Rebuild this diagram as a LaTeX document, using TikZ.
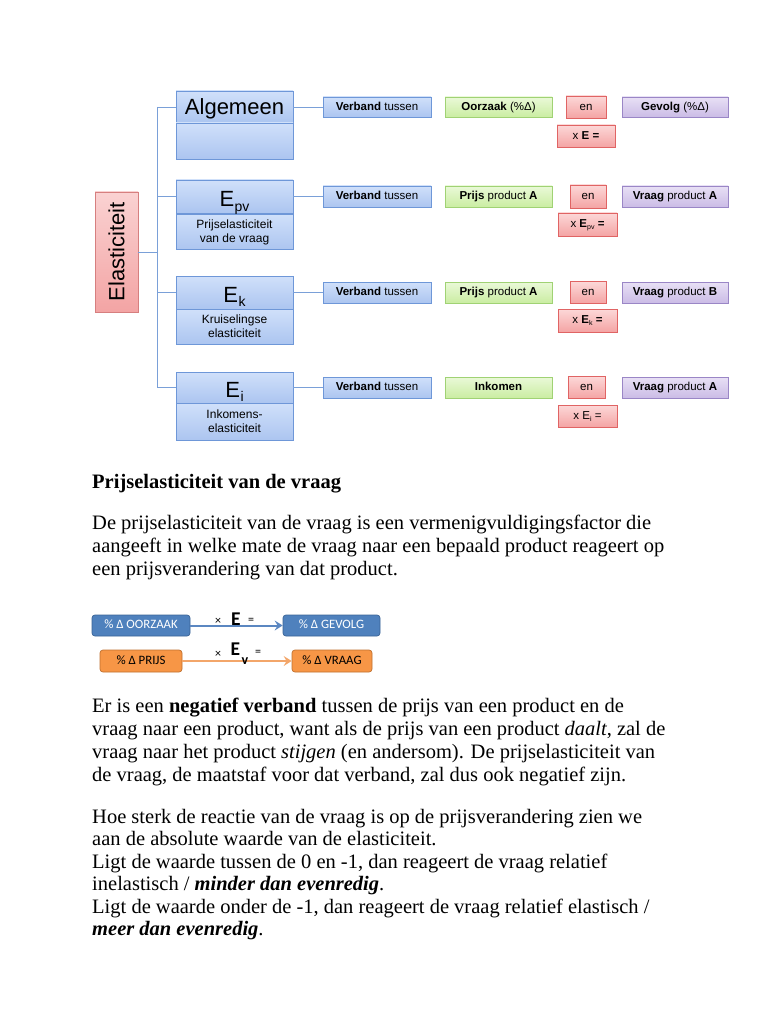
\documentclass[tikz,border=0pt]{standalone}
\usepackage{fontspec}
\setmainfont{Liberation Serif}
\newfontfamily\arial{Liberation Sans}
\newfontfamily\calib{Carlito}
\usetikzlibrary{shadows,arrows.meta}
\definecolor{blueT}{HTML}{D0E0FA}
\definecolor{blueD}{HTML}{ACC5F0}
\definecolor{blueB}{HTML}{6E97D8}
\definecolor{greenT}{HTML}{EAF9D8}
\definecolor{greenD}{HTML}{CAEDA2}
\definecolor{greenB}{HTML}{A0D274}
\definecolor{redT}{HTML}{FCD8D8}
\definecolor{redD}{HTML}{F4A4A4}
\definecolor{redB}{HTML}{E06464}
\definecolor{purT}{HTML}{E8E0F5}
\definecolor{purD}{HTML}{CBBCE6}
\definecolor{purB}{HTML}{9A86C6}
\definecolor{elT}{HTML}{FAD2D2}
\definecolor{elD}{HTML}{F3A4A4}
\definecolor{elB}{HTML}{D67F7F}
\definecolor{lineB}{HTML}{7AA0D8}
\definecolor{boxBlue}{HTML}{4F81BD}
\definecolor{boxBlueB}{HTML}{3A6496}
\definecolor{boxOr}{HTML}{F79646}
\definecolor{boxOrB}{HTML}{C0702E}
\definecolor{arrBlue}{HTML}{5B87C1}
\definecolor{arrOr}{HTML}{F3A66A}
\begin{document}
\begin{tikzpicture}[x=1pt,y=-1pt,
  box/.style={draw, line width=0.8pt, inner sep=0pt, align=center,
    font=\arial\fontsize{11.5}{13}\selectfont,
    drop shadow={opacity=0.25,shadow xshift=0.8pt,shadow yshift=-0.8pt}},
  one/.style={text height=8.6pt, text depth=2.4pt},
  bluebox/.style={box, draw=blueB, top color=blueT, bottom color=blueD},
  greenbox/.style={box, one, draw=greenB, top color=greenT, bottom color=greenD},
  redbox/.style={box, one, draw=redB, top color=redT, bottom color=redD},
  purbox/.style={box, one, draw=purB, top color=purT, bottom color=purD},
  bigf/.style={font=\arial\fontsize{22}{24}\selectfont},
  subf/.style={font=\arial\fontsize{12}{14}\selectfont},
  conn/.style={draw=lineB, line width=0.9pt},
  txt/.style={anchor=base west, inner sep=0pt, font=\fontsize{20.5}{23}\selectfont},
  lbox/.style={draw, line width=0.7pt, rounded corners=3pt, inner sep=0pt,
    text height=9pt, text depth=2.5pt,
    font=\calib\fontsize{12.8}{15}\selectfont}
]
\useasboundingbox[fill=white] (0,0) rectangle (768,1024);

% ---------- top diagram ----------
\node[box, draw=elB, top color=elT, bottom color=elD, minimum width=43, minimum height=120, bigf] (elas) at (116.5,252) {\rotatebox{90}{Elasticiteit}};

\node[bluebox, minimum width=117, minimum height=32, bigf, text height=16pt, text depth=0pt] (alg) at (234.5,107) {Algemeen};
\node[bluebox, minimum width=117, minimum height=36] (algS) at (234.5,141) {};

\node[bluebox, minimum width=117, minimum height=33, bigf, text height=21pt, text depth=0pt] (epv) at (234.5,196.5) {E\kern0.5pt\raisebox{-4.5pt}{\fontsize{14}{14}\selectfont pv}};
\node[bluebox, minimum width=117, minimum height=35, subf, yshift=-1.5pt] (epvS) at (234.5,230.5) {Prijselasticiteit\\van de vraag};

\node[bluebox, minimum width=117, minimum height=33, bigf, text height=19pt, text depth=0pt] (ek) at (234.5,292.5) {E\kern0.5pt\raisebox{-4.5pt}{\fontsize{14}{14}\selectfont k}};
\node[bluebox, minimum width=117, minimum height=35, subf] (ekS) at (234.5,326.5) {Kruiselingse\\elasticiteit};

\node[bluebox, minimum width=117, minimum height=31, bigf, text height=19pt, text depth=0pt] (ei) at (234.5,387.5) {E\kern0.5pt\raisebox{-4.5pt}{\fontsize{14}{14}\selectfont i}};
\node[bluebox, minimum width=117, minimum height=37, subf] (eiS) at (234.5,421.5) {Inkomens-\\elasticiteit};

\coordinate (bE) at (157,252);
\coordinate (b1) at (157,107);
\coordinate (b2) at (157,196.5);
\coordinate (b3) at (157,292.5);
\coordinate (b4) at (157,387.5);
\draw[conn] (b1) -- (b4);
\draw[conn] (elas.east) -- (bE);
\draw[conn] (b1) -- (alg.west);
\draw[conn] (b2) -- (epv.west);
\draw[conn] (b3) -- (ek.west);
\draw[conn] (b4) -- (ei.west);

% row 1
\node[bluebox, one, minimum width=108, minimum height=20] (v1) at (377,107) {\textbf{Verband} tussen};
\node[greenbox, minimum width=107, minimum height=20] (o1) at (498.5,107) {\textbf{Oorzaak} (\%Δ)};
\node[redbox, minimum width=40, minimum height=22] (en1) at (586,107) {en};
\node[purbox, minimum width=106, minimum height=20] (g1) at (675,107) {\textbf{Gevolg} (\%Δ)};
\node[redbox, minimum width=58, minimum height=22] (x1) at (586,136) {x \textbf{E =}};
\draw[conn] (alg.east) -- (v1.west);

% row 2
\node[bluebox, one, minimum width=108, minimum height=21] (v2) at (377,196.5) {\textbf{Verband} tussen};
\node[greenbox, minimum width=107, minimum height=21] (o2) at (498.5,196.5) {\textbf{Prijs} product \textbf{A}};
\node[redbox, minimum width=36, minimum height=23] (en2) at (588,196.5) {en};
\node[purbox, minimum width=106, minimum height=21] (g2) at (675,196.5) {\textbf{Vraag} product \textbf{A}};
\node[redbox, minimum width=59, minimum height=23] (x2) at (587.5,224.5) {x \textbf{E}\raisebox{-2pt}{\fontsize{7}{7}\selectfont pv} \textbf{=}};
\draw[conn] (epv.east) -- (v2.west);

% row 3
\node[bluebox, one, minimum width=108, minimum height=21] (v3) at (377,292.5) {\textbf{Verband} tussen};
\node[greenbox, minimum width=107, minimum height=21] (o3) at (498.5,292.5) {\textbf{Prijs} product \textbf{A}};
\node[redbox, minimum width=36, minimum height=22] (en3) at (588,292.5) {en};
\node[purbox, minimum width=106, minimum height=21] (g3) at (675,292.5) {\textbf{Vraag} product \textbf{B}};
\node[redbox, minimum width=59, minimum height=23] (x3) at (587.5,320.5) {x \textbf{E}\raisebox{-2pt}{\fontsize{7}{7}\selectfont k} \textbf{=}};
\draw[conn] (ek.east) -- (v3.west);

% row 4
\node[bluebox, one, minimum width=108, minimum height=21] (v4) at (377,387.5) {\textbf{Verband} tussen};
\node[greenbox, minimum width=107, minimum height=21] (o4) at (498.5,387.5) {\textbf{Inkomen}};
\node[redbox, minimum width=37, minimum height=22] (en4) at (586.5,387.5) {en};
\node[purbox, minimum width=106, minimum height=21] (g4) at (675,387.5) {\textbf{Vraag} product \textbf{A}};
\node[redbox, minimum width=59, minimum height=22] (x4) at (587.5,416) {x E\raisebox{-2pt}{\fontsize{7}{7}\selectfont i} =};
\draw[conn] (ei.east) -- (v4.west);

% ---------- text ----------
\node[txt, font=\bfseries\fontsize{20.5}{23}\selectfont] (h1) at (92,488) {Prijselasticiteit van de vraag};
\node[txt] (t1) at (92,529) {De prijselasticiteit van de vraag is een vermenigvuldigingsfactor die};
\node[txt] (t2) at (92,552) {aangeeft in welke mate de vraag naar een bepaald product reageert op};
\node[txt] (t3) at (92,575) {een prijsverandering van dat product.};

% ---------- small arrow diagram ----------
\node[lbox, fill=boxBlue, draw=boxBlueB, text=white, minimum width=98, minimum height=21] (oz) at (141,625.5) {\% Δ OORZAAK};
\node[lbox, fill=boxBlue, draw=boxBlueB, text=white, minimum width=97, minimum height=21] (gv) at (331.5,625.5) {\% Δ GEVOLG};
\node[lbox, fill=boxOr, draw=boxOrB, text=black, minimum width=82, minimum height=22] (pr) at (141,661) {\% Δ PRIJS};
\node[lbox, fill=boxOr, draw=boxOrB, text=black, minimum width=80, minimum height=22] (vr) at (332,661) {\% Δ VRAAG};
\draw[draw=arrBlue, line width=2pt, -{Stealth[length=8pt,width=10pt,inset=3pt]}] (oz.east) -- (gv.west);
\draw[draw=arrOr, line width=1.8pt, -{Stealth[length=8pt,width=10pt,inset=3pt]}] (pr.east) -- (vr.west);
\node[inner sep=0pt, font=\calib\fontsize{12}{12}\selectfont] (mx1) at (218,621) {×};
\node[inner sep=0pt, font=\calib\bfseries\fontsize{19.5}{20}\selectfont] (mE1) at (236,619) {E};
\node[inner sep=0pt, font=\calib\fontsize{12}{12}\selectfont] (meq1) at (251,621) {=};
\node[inner sep=0pt, font=\calib\fontsize{12}{12}\selectfont] (mx2) at (218,654) {×};
\node[inner sep=0pt, font=\calib\bfseries\fontsize{19.5}{20}\selectfont] (mE2) at (235.5,649.5) {E};
\node[inner sep=0pt, font=\calib\bfseries\fontsize{14}{14}\selectfont] (mv2) at (245,661.5) {v};
\node[inner sep=0pt, font=\calib\fontsize{12}{12}\selectfont] (meq2) at (258,653) {=};

% ---------- text ----------
\node[txt] (t4) at (92,712) {Er is een \textbf{negatief verband} tussen de prijs van een product en de};
\node[txt] (t5) at (92,735) {vraag naar een product, want als de prijs van een product \textit{daalt}, zal de};
\node[txt] (t6) at (92,758) {vraag naar het product \textit{stijgen} (en andersom). De prijselasticiteit van};
\node[txt] (t7) at (92,781) {de vraag, de maatstaf voor dat verband, zal dus ook negatief zijn.};

\node[txt] (t8) at (92,823) {Hoe sterk de reactie van de vraag is op de prijsverandering zien we};
\node[txt] (t9) at (92,845.5) {aan de absolute waarde van de elasticiteit.};
\node[txt] (t10) at (92,868) {Ligt de waarde tussen de 0 en -1, dan reageert de vraag relatief};
\node[txt] (t11) at (92,890.5) {inelastisch / \textbf{\textit{minder dan evenredig}}.};
\node[txt] (t12) at (92,913) {Ligt de waarde onder de -1, dan reageert de vraag relatief elastisch /};
\node[txt] (t13) at (92,935.5) {\textbf{\textit{meer dan evenredig}}.};
\end{tikzpicture}
\end{document}
